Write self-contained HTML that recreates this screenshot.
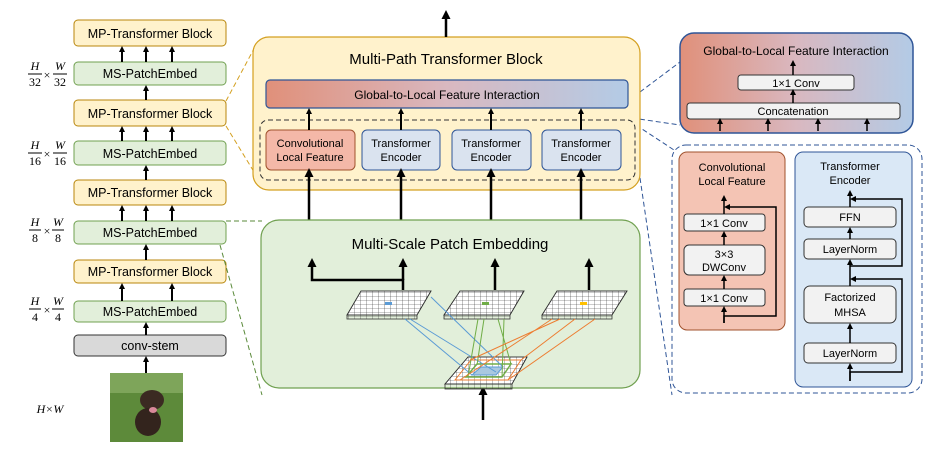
<!DOCTYPE html>
<html><head><meta charset="utf-8"><style>
body{margin:0;background:#fff}
svg{display:block;font-family:"Liberation Sans","DejaVu Sans",sans-serif}
</style></head><body>
<svg width="934" height="469" viewBox="0 0 934 469" xmlns="http://www.w3.org/2000/svg">
<defs>
<marker id="a" markerWidth="6" markerHeight="6" refX="3" refY="3" orient="auto" markerUnits="userSpaceOnUse"><path d="M0,0 L6,3 L0,6 z" fill="#000"/></marker>
<marker id="b" markerWidth="9" markerHeight="9" refX="5" refY="4.5" orient="auto" markerUnits="userSpaceOnUse"><path d="M0,0 L9,4.5 L0,9 z" fill="#000"/></marker>
<linearGradient id="g" x1="0" x2="1" y1="0" y2="0"><stop offset="0" stop-color="#e0907a"/><stop offset="0.5" stop-color="#d9b8c0"/><stop offset="1" stop-color="#b3cbe6"/></linearGradient>
<pattern id="grid" width="6" height="4" patternUnits="userSpaceOnUse"><path d="M6,0 L0,0 0,4" fill="none" stroke="#333" stroke-width="0.6"/></pattern>
</defs>

<!-- left column -->
<g font-size="12.5" text-anchor="middle" stroke-width="1">
<rect x="74" y="20" width="152" height="26" rx="4" fill="#fff2cc" stroke="#b8860b"/><text x="150" y="38">MP-Transformer Block</text>
<rect x="74" y="62" width="152" height="23" rx="4" fill="#e2efda" stroke="#70a050"/><text x="150" y="78">MS-PatchEmbed</text>
<rect x="74" y="100" width="152" height="26" rx="4" fill="#fff2cc" stroke="#b8860b"/><text x="150" y="118">MP-Transformer Block</text>
<rect x="74" y="141" width="152" height="24" rx="4" fill="#e2efda" stroke="#70a050"/><text x="150" y="158">MS-PatchEmbed</text>
<rect x="74" y="180" width="152" height="25" rx="4" fill="#fff2cc" stroke="#b8860b"/><text x="150" y="197">MP-Transformer Block</text>
<rect x="74" y="221" width="152" height="23" rx="4" fill="#e2efda" stroke="#70a050"/><text x="150" y="237">MS-PatchEmbed</text>
<rect x="74" y="260" width="152" height="23" rx="4" fill="#fff2cc" stroke="#b8860b"/><text x="150" y="276">MP-Transformer Block</text>
<rect x="74" y="301" width="152" height="21" rx="4" fill="#e2efda" stroke="#70a050"/><text x="150" y="316">MS-PatchEmbed</text>
<rect x="74" y="335" width="152" height="21" rx="4" fill="#d9d9d9" stroke="#333"/><text x="150" y="350">conv-stem</text>
</g>
<g stroke="#000" stroke-width="2" marker-end="url(#a)">
<line x1="122" y1="62" x2="122" y2="49"/><line x1="146" y1="62" x2="146" y2="49"/><line x1="172" y1="62" x2="172" y2="49"/>
<line x1="146" y1="100" x2="146" y2="88"/>
<line x1="122" y1="141" x2="122" y2="129"/><line x1="146" y1="141" x2="146" y2="129"/><line x1="172" y1="141" x2="172" y2="129"/>
<line x1="146" y1="180" x2="146" y2="168"/>
<line x1="122" y1="221" x2="122" y2="208"/><line x1="146" y1="221" x2="146" y2="208"/><line x1="172" y1="221" x2="172" y2="208"/>
<line x1="146" y1="260" x2="146" y2="247"/>
<line x1="122" y1="301" x2="122" y2="286"/><line x1="172" y1="301" x2="172" y2="286"/>
<line x1="146" y1="335" x2="146" y2="325"/>
<line x1="146" y1="373" x2="146" y2="359"/>
</g>
<!-- image -->
<rect x="110" y="373" width="73" height="69" fill="#5d8a3a"/>
<rect x="110" y="373" width="73" height="20" fill="#7ea55a"/>
<ellipse cx="152" cy="400" rx="12" ry="10" fill="#3b2a22"/>
<ellipse cx="148" cy="422" rx="13" ry="14" fill="#33241d"/>
<ellipse cx="153" cy="410" rx="4" ry="3" fill="#d9899a"/>
<!-- fractions -->
<g font-family="Liberation Serif,serif" font-size="12" font-style="italic" text-anchor="middle">
<text x="35" y="70">H</text><text x="35" y="86" font-style="normal">32</text><line x1="28" y1="74" x2="42" y2="74" stroke="#000"/><text x="47" y="79" font-style="normal">×</text><text x="60" y="70">W</text><text x="60" y="86" font-style="normal">32</text><line x1="53" y1="74" x2="67" y2="74" stroke="#000"/>
<text x="35" y="149">H</text><text x="35" y="165" font-style="normal">16</text><line x1="28" y1="153" x2="42" y2="153" stroke="#000"/><text x="47" y="158" font-style="normal">×</text><text x="60" y="149">W</text><text x="60" y="165" font-style="normal">16</text><line x1="53" y1="153" x2="67" y2="153" stroke="#000"/>
<text x="35" y="226">H</text><text x="35" y="242" font-style="normal">8</text><line x1="29" y1="230" x2="41" y2="230" stroke="#000"/><text x="47" y="235" font-style="normal">×</text><text x="58" y="226">W</text><text x="58" y="242" font-style="normal">8</text><line x1="52" y1="230" x2="64" y2="230" stroke="#000"/>
<text x="35" y="305">H</text><text x="35" y="321" font-style="normal">4</text><line x1="29" y1="309" x2="41" y2="309" stroke="#000"/><text x="47" y="314" font-style="normal">×</text><text x="58" y="305">W</text><text x="58" y="321" font-style="normal">4</text><line x1="52" y1="309" x2="64" y2="309" stroke="#000"/>
<text x="50" y="413">H×W</text>
</g>

<!-- dashed connectors -->
<g fill="none" stroke-dasharray="5,3" stroke-width="1">
<path d="M226,101 L256,45 M226,126 L262,185" stroke="#d4a020"/>
<path d="M226,221 L262,221 M220,245 L262,395" stroke="#5a8a3a"/>
<path d="M640,92 L680,62 M632,118 L680,125 M636,125 L674,150 M640,178 L672,395" stroke="#2f5597"/>
</g>

<!-- MP block -->
<rect x="253" y="37" width="387" height="153" rx="16" fill="#fff2cc" stroke="#d4a020" stroke-width="1.2"/>
<text x="446" y="64" font-size="15" text-anchor="middle">Multi-Path Transformer Block</text>
<rect x="266" y="80" width="362" height="28" rx="4" fill="url(#g)" stroke="#2f5597" stroke-width="1.2"/>
<text x="447" y="99" font-size="12" text-anchor="middle">Global-to-Local Feature Interaction</text>
<rect x="260" y="120" width="375" height="60" rx="8" fill="none" stroke="#333" stroke-dasharray="5,3"/>
<g font-size="11" text-anchor="middle">
<rect x="266" y="130" width="89" height="40" rx="5" fill="#f4b8a8" stroke="#a0522d"/><text x="310" y="147">Convolutional</text><text x="310" y="161">Local Feature</text>
<rect x="362" y="130" width="78" height="40" rx="5" fill="#dae3ef" stroke="#2f5597"/><text x="401" y="147">Transformer</text><text x="401" y="161">Encoder</text>
<rect x="452" y="130" width="79" height="40" rx="5" fill="#dae3ef" stroke="#2f5597"/><text x="491" y="147">Transformer</text><text x="491" y="161">Encoder</text>
<rect x="542" y="130" width="79" height="40" rx="5" fill="#dae3ef" stroke="#2f5597"/><text x="581" y="147">Transformer</text><text x="581" y="161">Encoder</text>
</g>
<g stroke="#000" stroke-width="2" marker-end="url(#a)">
<line x1="309" y1="130" x2="309" y2="111"/><line x1="401" y1="130" x2="401" y2="111"/><line x1="491" y1="130" x2="491" y2="111"/><line x1="581" y1="130" x2="581" y2="111"/>
</g>
<g stroke="#000" stroke-width="2.5" marker-end="url(#b)">
<line x1="446" y1="37" x2="446" y2="14"/>
<line x1="309" y1="220" x2="309" y2="172"/><line x1="401" y1="220" x2="401" y2="172"/><line x1="491" y1="220" x2="491" y2="172"/><line x1="581" y1="220" x2="581" y2="172"/>
<line x1="483" y1="420" x2="483" y2="390"/>
</g>

<!-- MS patch embedding -->
<rect x="261" y="220" width="379" height="168" rx="18" fill="#e2efda" stroke="#70a050" stroke-width="1.2"/>
<text x="450" y="249" font-size="15" text-anchor="middle">Multi-Scale Patch Embedding</text>
<g stroke="#000" stroke-width="2.5" fill="none">
<path d="M312,268 L312,280 L403,280 L403,290"/>
</g>
<g stroke="#000" stroke-width="2.5" marker-end="url(#b)">
<line x1="312" y1="268" x2="312" y2="262"/><line x1="403" y1="280" x2="403" y2="262"/><line x1="495" y1="290" x2="495" y2="262"/><line x1="589" y1="290" x2="589" y2="262"/>
</g>
<g stroke="#333" stroke-width="0.8">
<polygon points="361,291 431,291 417,315 347,315" fill="#fff"/><polygon points="361,291 431,291 417,315 347,315" fill="url(#grid)"/><rect x="347" y="315" width="70" height="4" fill="url(#grid)"/>
<polygon points="460,291 524,291 510,315 444,315" fill="#fff"/><polygon points="460,291 524,291 510,315 444,315" fill="url(#grid)"/><rect x="444" y="315" width="66" height="4" fill="url(#grid)"/>
<polygon points="557,291 627,291 612,315 542,315" fill="#fff"/><polygon points="557,291 627,291 612,315 542,315" fill="url(#grid)"/><rect x="542" y="315" width="70" height="4" fill="url(#grid)"/>
<polygon points="468,357 527,357 512,384 445,384" fill="#fff"/><polygon points="468,357 527,357 512,384 445,384" fill="url(#grid)"/><rect x="445" y="384" width="67" height="5" fill="url(#grid)"/>
</g>
<rect x="385" y="302" width="7" height="3" fill="#5b9bd5"/><rect x="482" y="302" width="7" height="3" fill="#70ad47"/><rect x="580" y="302" width="7" height="3" fill="#ffc000"/>
<g fill="none" stroke-width="1">
<polygon points="471,360 521,360 508,380 455,380" stroke="#ed7d31"/>
<polygon points="477,364 511,364 502,377 466,377" stroke="#70ad47" stroke-width="1.5"/>
<polygon points="481,367 503,367 496,375 472,375" stroke="#5b9bd5" fill="#a9c8e0"/>
<path d="M405,319 L472,375 M410,319 L496,372 M431,297 L503,367" stroke="#5b9bd5"/>
<path d="M478,319 L468,377 M484,319 L477,365 M498,319 L511,364 M504,319 L502,377" stroke="#70ad47"/>
<path d="M552,319 L460,380 M560,319 L470,360 M595,319 L508,380 M575,319 L521,360" stroke="#ed7d31"/>
</g>

<!-- GLFI detail -->
<rect x="680" y="33" width="233" height="100" rx="14" fill="url(#g)" stroke="#2f5597" stroke-width="1.5"/>
<text x="796" y="55" font-size="12" text-anchor="middle">Global-to-Local Feature Interaction</text>
<rect x="738" y="75" width="116" height="15" rx="3" fill="#f2f2f2" stroke="#333"/><text x="796" y="87" font-size="11" text-anchor="middle">1×1 Conv</text>
<rect x="687" y="103" width="213" height="16" rx="3" fill="#f2f2f2" stroke="#333"/><text x="793" y="115" font-size="11" text-anchor="middle">Concatenation</text>
<g stroke="#000" stroke-width="1.5" marker-end="url(#a)">
<line x1="793" y1="75" x2="793" y2="63"/><line x1="793" y1="103" x2="793" y2="92"/>
<line x1="720" y1="131" x2="720" y2="121"/><line x1="768" y1="131" x2="768" y2="121"/><line x1="818" y1="131" x2="818" y2="121"/><line x1="867" y1="131" x2="867" y2="121"/>
</g>

<!-- lower right dashed -->
<rect x="672" y="145" width="250" height="248" rx="14" fill="none" stroke="#2f5597" stroke-dasharray="5,3"/>
<rect x="679" y="152" width="106" height="178" rx="8" fill="#f4c4b4" stroke="#a0522d"/>
<text x="732" y="171" font-size="11" text-anchor="middle">Convolutional</text><text x="732" y="185" font-size="11" text-anchor="middle">Local Feature</text>
<g font-size="11" text-anchor="middle">
<rect x="684" y="214" width="81" height="17" rx="3" fill="#f2f2f2" stroke="#333"/><text x="724" y="227">1×1  Conv</text>
<rect x="684" y="245" width="81" height="30" rx="5" fill="#f2f2f2" stroke="#333"/><text x="724" y="258">3×3</text><text x="724" y="271">DWConv</text>
<rect x="684" y="289" width="81" height="17" rx="3" fill="#f2f2f2" stroke="#333"/><text x="724" y="302">1×1 Conv</text>
</g>
<rect x="795" y="152" width="117" height="235" rx="8" fill="#dae8f6" stroke="#2f5597"/>
<text x="850" y="170" font-size="11" text-anchor="middle">Transformer</text><text x="850" y="184" font-size="11" text-anchor="middle">Encoder</text>
<g font-size="11" text-anchor="middle">
<rect x="804" y="207" width="92" height="20" rx="4" fill="#f2f2f2" stroke="#333"/><text x="850" y="221">FFN</text>
<rect x="804" y="239" width="92" height="20" rx="4" fill="#f2f2f2" stroke="#333"/><text x="850" y="253">LayerNorm</text>
<rect x="804" y="286" width="92" height="37" rx="6" fill="#f2f2f2" stroke="#333"/><text x="850" y="301">Factorized</text><text x="850" y="316">MHSA</text>
<rect x="804" y="343" width="92" height="20" rx="4" fill="#f2f2f2" stroke="#333"/><text x="850" y="357">LayerNorm</text>
</g>
<g stroke="#000" stroke-width="1.5" fill="none">
<path d="M724,323 L724,316 L776,316 L776,207 L729,207"/>
<path d="M850,381 L850,372 L902,372 L902,279 L855,279"/>
<path d="M850,266 L850,266 L902,266 L902,199 L855,199"/>
</g>
<g stroke="#000" stroke-width="1.5" marker-end="url(#a)">
<line x1="724" y1="214" x2="724" y2="198"/><line x1="724" y1="245" x2="724" y2="234"/><line x1="724" y1="289" x2="724" y2="278"/><line x1="724" y1="323" x2="724" y2="309"/>
<line x1="850" y1="207" x2="850" y2="193"/><line x1="850" y1="239" x2="850" y2="230"/><line x1="850" y1="286" x2="850" y2="262"/><line x1="850" y1="343" x2="850" y2="326"/><line x1="850" y1="381" x2="850" y2="366"/>
<line x1="855" y1="199" x2="853" y2="199"/><line x1="855" y1="279" x2="853" y2="279"/><line x1="729" y1="207" x2="727" y2="207"/>
</g>
</svg>
</body></html>
